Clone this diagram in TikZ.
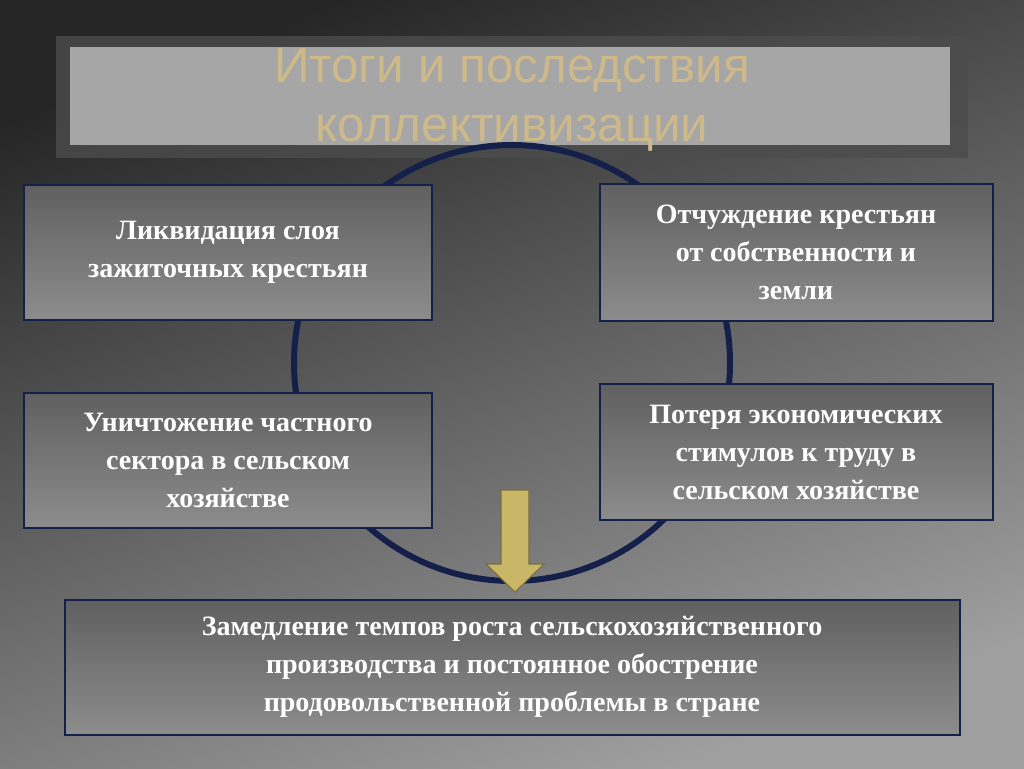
\documentclass[tikz,border=0pt]{standalone}
\usepackage{fontspec}
\setmainfont{Liberation Serif}
\newfontfamily\titlefont{Liberation Sans}
\usetikzlibrary{positioning}
\definecolor{navy}{HTML}{14204A}
\definecolor{gold}{HTML}{C9B767}
\definecolor{titletext}{HTML}{CDB98A}
\tikzset{result/.style={draw=navy,line width=1.5pt,top color=gray!75!black,bottom color=gray!90,
  text=white,font=\fontsize{21}{28.5}\selectfont\bfseries,align=center,inner sep=0pt}}
\begin{document}
\begin{tikzpicture}[x=0.75pt,y=-0.75pt]
\useasboundingbox (0,0) rectangle (1024,768);
\shade[top color=black!85,bottom color=gray!75,shading angle=20] (0,0) rectangle (1024,768);
% title
\fill[black!70,opacity=0.8] (56,36) rectangle (968,158);
\node[fill=gray!70,minimum width=880*0.75pt,minimum height=98*0.75pt,inner sep=0pt] (band) at (510,96) {};
\node[text=titletext,font=\titlefont\fontsize{37}{44}\selectfont,align=center] (title) at (512,100)
  {Итоги и последствия\\коллективизации};
% ring
\draw[navy,line width=4.5pt] (512,363) circle (218);
% results
\node[result,minimum width=408*0.75pt,minimum height=135*0.75pt] (liq) at (228,252)
  {Ликвидация слоя\\зажиточных крестьян};
\node[result,minimum width=393*0.75pt,minimum height=137*0.75pt] (otch) at (796,252)
  {Отчуждение крестьян\\от собственности и\\земли};
\node[result,minimum width=408*0.75pt,minimum height=135*0.75pt] (unich) at (228,460)
  {Уничтожение частного\\сектора в сельском\\хозяйстве};
\node[result,minimum width=393*0.75pt,minimum height=136*0.75pt] (pot) at (796,452)
  {Потеря экономических\\стимулов к труду в\\сельском хозяйстве};
\node[result,minimum width=895*0.75pt,minimum height=135*0.75pt] (zam) at (512,667)
  {Замедление темпов роста сельскохозяйственного\\производства и постоянное обострение\\продовольственной проблемы в стране};
% arrow
\coordinate (tip) at (515,592);
\filldraw[fill=gold,draw=gold!60!black,line width=0.8pt]
  (501,490) -- (529,490) -- (529,564) -- (544,564) -- (tip) -- (486,564) -- (501,564) -- cycle;
\end{tikzpicture}
\end{document}
